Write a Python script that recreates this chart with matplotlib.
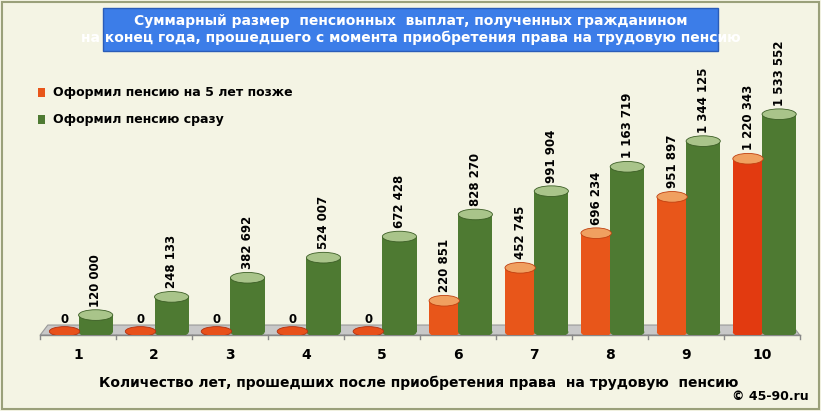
import matplotlib
matplotlib.use("Agg")
import matplotlib.pyplot as plt
from matplotlib.patches import Ellipse, FancyBboxPatch, Rectangle, Polygon
import numpy as np

categories = ["1", "2", "3", "4", "5", "6", "7", "8", "9", "10"]
later = [0, 0, 0, 0, 0, 220851, 452745, 696234, 951897, 1220343]
immediate = [120000, 248133, 382692, 524007, 672428, 828270, 991904, 1163719, 1344125, 1533552]
labels_later = ["0", "0", "0", "0", "0", "220 851", "452 745", "696 234", "951 897", "1 220 343"]
labels_imm = ["120 000", "248 133", "382 692", "524 007", "672 428", "828 270", "991 904",
              "1 163 719", "1 344 125", "1 533 552"]

fig = plt.figure(figsize=(8.21, 4.11), dpi=100)
fig.patch.set_facecolor("#f4f4e4")
fig.add_artist(Rectangle((0.002, 0.004), 0.996, 0.992, transform=fig.transFigure,
                         fill=False, ec="#9aa07a", lw=1.5))

ax = fig.add_axes([0.049, 0.185, 0.925, 0.605])
ax.set_facecolor("none")
ax.set_xlim(0, 10)
ax.set_ylim(0, 1750000)
for s in ax.spines.values():
    s.set_visible(False)
ax.set_xticks([]); ax.set_yticks([])

# floor
ax.add_patch(Polygon([[0, 0], [10, 0], [9.9, 70000], [0.1, 70000]], closed=True,
                     fc="#c8c8c8", ec="#999999", lw=0.8, zorder=0, clip_on=False))
ax.plot([0, 10], [0, 0], color="#888888", lw=1, clip_on=False)
for i in range(11):
    ax.plot([i, i], [0, -25000], color="#888888", lw=1, clip_on=False)

eh = 75000
def cyl(xc, w, h, body, top, edge):
    ax.add_patch(Rectangle((xc - w / 2, 20000), w, h, fc=body, ec="none", zorder=2))
    ax.add_patch(Ellipse((xc, 20000), w, eh, fc=body, ec="none", zorder=2))
    ax.add_patch(Ellipse((xc, 20000 + h), w, eh, fc=top, ec=edge, lw=0.6, zorder=3))

wl, wi = 0.40, 0.45
for i in range(10):
    xl = i + 0.32
    xi = i + 0.73
    if later[i] > 0:
        col = "#e8561a" if i < 9 else "#e23a10"
        cyl(xl, wl, later[i], col, "#f0a060", "#c04010")
        ax.text(xl, later[i] + 80000, labels_later[i], rotation=90, ha="center", va="bottom",
                fontsize=8.5, fontweight="bold")
    else:
        ax.add_patch(Ellipse((xl, 25000), wl, eh * 0.9, fc="#e8501a", ec="#b03010", lw=0.6, zorder=3))
        ax.text(xl, 60000, "0", ha="center", va="bottom", fontsize=8.5, fontweight="bold")
    cyl(xi, wi, immediate[i], "#4e7a32", "#a9c48a", "#3c5e26")
    ax.text(xi, immediate[i] + 80000, labels_imm[i], rotation=90, ha="center", va="bottom",
            fontsize=8.5, fontweight="bold")
    ax.text(i + 0.5, -90000, categories[i], ha="center", va="top", fontsize=10, fontweight="bold")

fig.text(0.51, 0.068, "Количество лет, прошедших после приобретения права  на трудовую  пенсию",
         ha="center", va="center", fontsize=10, fontweight="bold")
fig.text(0.985, 0.035, "© 45-90.ru", ha="right", va="center", fontsize=9, fontweight="bold")

# title box
fig.add_artist(FancyBboxPatch((0.125, 0.875), 0.75, 0.105, boxstyle="square,pad=0",
                              transform=fig.transFigure, fc="#3c7de8", ec="#2a5cb8", lw=1))
fig.text(0.5, 0.928, "Суммарный размер  пенсионных  выплат, полученных гражданином\n"
         "на конец года, прошедшего с момента приобретения права на трудовую пенсию",
         ha="center", va="center", color="white", fontsize=10, fontweight="bold", linespacing=1.3)

# legend
fig.add_artist(Rectangle((0.046, 0.764), 0.009, 0.022, transform=fig.transFigure,
                         fc="#e8561a", ec="none"))
fig.text(0.065, 0.775, "Оформил пенсию на 5 лет позже", va="center", fontsize=9, fontweight="bold")
fig.add_artist(Rectangle((0.046, 0.698), 0.009, 0.022, transform=fig.transFigure,
                         fc="#4e7a32", ec="none"))
fig.text(0.065, 0.709, "Оформил пенсию сразу", va="center", fontsize=9, fontweight="bold")

fig.savefig("out.png", dpi=100, facecolor=fig.get_facecolor())
